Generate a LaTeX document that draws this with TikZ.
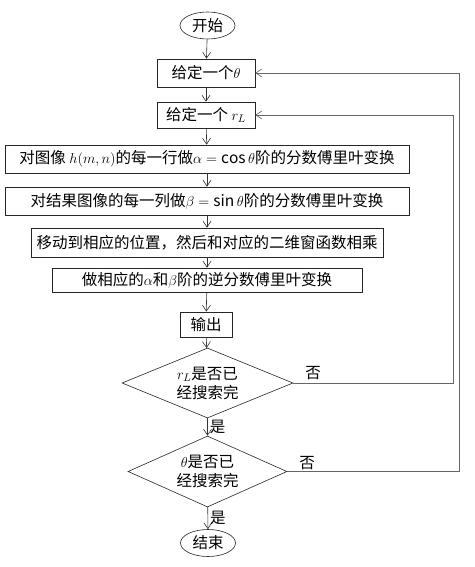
\documentclass[tikz,border=0pt]{standalone}
\usepackage{fontspec}
\setmainfont{Noto Sans CJK SC}
\usetikzlibrary{shapes.geometric, arrows.meta}

\begin{document}
\begin{tikzpicture}[x=1pt, y=-1pt, >={Straight Barb[length=6pt,width=8pt]},
    every node/.style={font=\fontsize{15.5pt}{19pt}\selectfont},
    box/.style={draw=black!85, semithick, inner sep=0pt},
    term/.style={draw=black!85, semithick, ellipse, inner sep=0pt, minimum width=55pt, minimum height=27pt},
    test/.style={draw=black!85, semithick, diamond, aspect=2.4, inner sep=0pt, align=center},
    flow/.style={draw=black!80, semithick, ->},
    back/.style={draw=black!60, semithick, ->}]
    \useasboundingbox (0, 0) rectangle (474, 567);
        \node[term] (start) at (207.5, 25.5) {开始};
        \node[box, minimum width=98pt, minimum height=28pt] (theta) at (206, 73) {给定一个$\theta$};
        \node[box, minimum width=98pt, minimum height=26pt] (rl) at (206, 115) {给定一个\ $r_L$};
        \node[box, minimum width=404pt, minimum height=28pt] (rows) at (207, 159) {对图像 $h(m,n)$的每一行做$\alpha=\cos\theta$阶的分数傅里叶变换};
        \node[box, minimum width=404pt, minimum height=28pt] (cols) at (207, 201) {对结果图像的每一列做$\beta=\sin\theta$阶的分数傅里叶变换};
        \node[box, minimum width=352pt, minimum height=29pt] (move) at (207, 242.5) {移动到相应的位置，然后和对应的二维窗函数相乘};
        \node[box, minimum width=310pt, minimum height=24pt] (inv) at (207, 280) {做相应的$\alpha$和$\beta$阶的逆分数傅里叶变换};
        \node[box, minimum width=52pt, minimum height=25pt] (out) at (206, 324.5) {输出};
        \node[test, minimum width=171pt, minimum height=70pt] (dr) at (207.5, 383) {$r_L$是否已\\经搜索完};
        \node[test, minimum width=159pt, minimum height=71pt] (dt) at (207.5, 471.5) {$\theta$是否已\\经搜索完};
        \node[term] (stop) at (208, 543) {结束};
        %
        \coordinate (rlcorner) at (453, 383);
        \coordinate (rltop) at (453, 115);
        \coordinate (thcorner) at (459, 471.5);
        \coordinate (thtop) at (459, 73);
        %
        \draw[flow] (start) -- (theta);
        \draw[flow] (theta) -- (rl);
        \draw[flow] (rl) -- (rows);
        \draw[flow] (rows) -- (cols);
        \draw[flow] (cols) -- (move);
        \draw[flow] (move) -- (inv);
        \draw[flow] (inv) -- (out);
        \draw[flow] (out) -- (dr);
        \draw[flow] (dr) -- node[right, inner sep=2pt] {是} (dt);
        \draw[flow] (dt) -- node[right, inner sep=2pt] {是} (stop);
        \draw[back] (dr.east) -- (rlcorner) -- (rltop) -- (rl.east);
        \draw[back] (dt.east) -- (thcorner) -- (thtop) -- (theta.east);
        \node at (313, 373) {否};
        \node at (307, 463) {否};
    \end{tikzpicture}
\end{document}
